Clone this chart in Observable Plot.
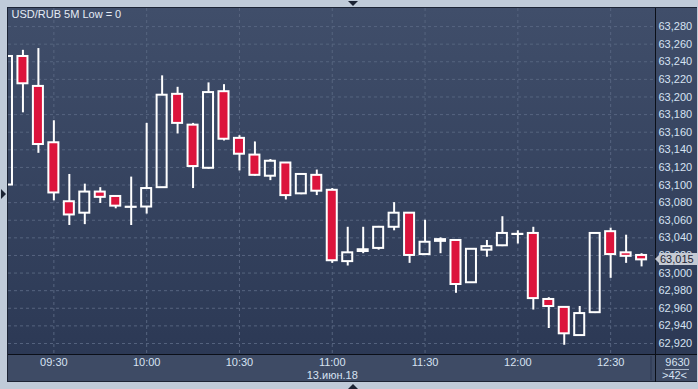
<!DOCTYPE html>
<html><head><meta charset="utf-8">
<script src="https://cdn.jsdelivr.net/npm/d3@7"></script>
<script src="https://cdn.jsdelivr.net/npm/@observablehq/plot@0.6"></script>
<style>
html,body{margin:0;padding:0;background:#c0cbd9;}
#wrap{position:relative;width:698px;height:389px;overflow:hidden;background:#c0cbd9;font-family:"Liberation Sans Narrow","Liberation Sans",Arial,sans-serif;}
#wrap div.l{position:absolute;}
#frame{left:7px;top:7px;width:690px;height:375px;background:#1c2435;}
#plotbg{left:8px;top:8px;width:647px;height:346px;background:linear-gradient(to bottom,#404e6a,#2c3955);}
#rightbg{left:656px;top:8px;width:41px;height:346px;background:linear-gradient(to bottom,#404e6a,#2c3955);}
#bottombg{left:8px;top:355px;width:647px;height:26px;background:#3e4b65;}
#cornerbg{left:656px;top:355px;width:41px;height:26px;background:#3e4b65;}
#vline{left:655px;top:8px;width:1px;height:374px;background:#0b0f18;}
#hline{left:8px;top:354px;width:689px;height:1px;background:#0b0f18;}
#sep{left:650px;top:356px;width:2px;height:24px;background:#34405a;}
#cntLine{left:665px;top:369px;width:24px;height:1px;background:#aab6c8;}
.tri{position:absolute;width:0;height:0;}
#triTop{left:348px;top:1px;border-left:5px solid transparent;border-right:5px solid transparent;border-top:5px solid #1b2333;}
#triBot{left:348px;top:384px;border-left:5px solid transparent;border-right:5px solid transparent;border-bottom:5px solid #1b2333;}
#triLeft{left:1px;top:189px;border-top:5px solid transparent;border-bottom:5px solid transparent;border-left:5px solid #1b2333;}
#plotHost{position:absolute;left:0;top:0;}
#lastBox{position:absolute;left:659px;width:38px;height:12px;background:#c5cad3;color:#1d2536;font-size:11px;line-height:12px;text-align:left;padding-left:1px;box-sizing:border-box;}
#lastArrow{position:absolute;left:655px;width:0;height:0;border-top:4px solid transparent;border-bottom:4px solid transparent;border-right:4px solid #c5cad3;}
</style></head>
<body>
<div id="wrap">
  <div class="l" id="frame"></div>
  <div class="l" id="plotbg"></div>
  <div class="l" id="rightbg"></div>
  <div class="l" id="bottombg"></div>
  <div class="l" id="cornerbg"></div>
  <div class="l" id="sep"></div>
  <div class="l" id="cntLine"></div>
  <div class="tri" id="triTop"></div>
  <div class="tri" id="triBot"></div>
  <div class="tri" id="triLeft"></div>
  <div id="plotHost"></div>
  <div class="l" id="vline"></div>
  <div class="l" id="hline"></div>
  <div id="lastArrow"></div>
  <div id="lastBox"></div>
</div>
<script>
// ---- data ----
const titleText = "USD/RUB 5M Low = 0";
const times  = ["09:15","09:20","09:25","09:30","09:35","09:40","09:45","09:50","09:55","10:00",
                "10:05","10:10","10:15","10:20","10:25","10:30","10:35","10:40","10:45","10:50",
                "10:55","11:00","11:05","11:10","11:15","11:20","11:25","11:30","11:35","11:40",
                "11:45","11:50","11:55","12:00","12:05","12:10","12:15","12:20","12:25","12:30",
                "12:35","12:40"];
const opens  = [63100,63246,63212,63148,63081,63068,63092,63087,63074.8,63075,
                63097,63203,63168,63119,63206,63153,63134,63110,63125,63090,
                63111,63094,63013,63024.5,63028,63052,63068,63021,63036,63037,
                62989,63026,63031,63044,63045,62970,62961,62929,62955,63047,
                63023,63020];
const highs  = [63246,63253,63255,63173,63112,63101,63097,63087,63109,63170,
                63224,63211,63170,63216,63214,63156,63149,63129,63125,63113,
                63117,63096,63052,63052,63053,63080,63068,63060,63040,63037,
                63027,63037,63064,63048,63052,62972,62961,62962,63046,63051,
                63043,63022];
const lows   = [63100,63182,63136,63082,63054,63055,63079,63073,63054,63067,
                63097,63158,63096,63118,63150,63116,63110,63105,63083,63089,
                63088,63011,63008,63022,63026,63048,63011,63020,63022,62977,
                62989,63018,63030,63033,62958,62937,62918,62929,62954,62994,
                63011,63007];
const closes = [63246,63215,63146,63091,63066,63092,63086,63076,63074.6,63096,
                63202,63170,63121,63205,63152,63135,63111,63127,63088,63112,
                63093,63014,63023,63026.5,63052,63068,63020,63035,63038,62987,
                63027,63030,63045,63043.8,62971,62962,62931,62954,63045,63021,
                63019,63015];
const priceTicks = [62920,62940,62960,62980,63000,63020,63040,63060,63080,63100,
                    63120,63140,63160,63180,63200,63220,63240,63260,63280];
const timeTicks = ["09:30","10:00","10:30","11:00","11:30","12:00","12:30"];
const dateLabel = "13.июн.18";
const dateLabelTime = "11:00";
const lastPrice = 63015;
const counterTop = "9630";
const counterBottom = ">42<";
const xStart = "09:15:20", xEnd = "12:44:30";
const yMin = 62907.5, yMax = 63300.5;

// ---- build ----
function toDate(s){const p=s.split(":").map(Number);return new Date(Date.UTC(2018,5,13,p[0],p[1],p[2]||0));}
const data = times.map((t,i)=>({t:toDate(t),o:opens[i],h:highs[i],l:lows[i],c:closes[i]}));
const half = 1.62*60000;
const FONT = '"Liberation Sans Narrow","Liberation Sans",Arial,sans-serif';
const txt = "#d6e2f2";
const grid = {stroke:"#56647f",strokeOpacity:1,strokeDasharray:"3,3",strokeWidth:1};

const plot = Plot.plot({
  width:698, height:389,
  marginLeft:8, marginTop:8, marginRight:43, marginBottom:35,
  style:{background:"transparent",color:txt,fontFamily:FONT,fontSize:"11px",overflow:"visible"},
  x:{type:"utc",domain:[toDate(xStart),toDate(xEnd)]},
  y:{domain:[yMin,yMax]},
  marks:[
    Plot.gridY(priceTicks,grid),
    Plot.gridX(timeTicks.map(toDate),grid),
    Plot.axisY(priceTicks,{anchor:"right",tickSize:0,tickPadding:3,tickFormat:d3.format(","),label:null,fill:txt}),
    Plot.axisX(timeTicks.map(toDate),{anchor:"bottom",tickSize:0,tickPadding:4,tickFormat:d3.utcFormat("%H:%M"),label:null,fill:txt}),
    Plot.text([dateLabel],{x:()=>toDate(dateLabelTime),frameAnchor:"bottom",lineAnchor:"middle",dy:20.5,fill:txt,text:d=>d}),
    Plot.text([titleText],{frameAnchor:"top-left",textAnchor:"start",lineAnchor:"middle",dx:3,dy:6,fill:"#e4ebf5",text:d=>d}),
    Plot.text([counterTop],{frameAnchor:"bottom-right",textAnchor:"middle",lineAnchor:"middle",dx:22,dy:8,fill:txt,text:d=>d}),
    Plot.text([counterBottom],{frameAnchor:"bottom-right",textAnchor:"middle",lineAnchor:"middle",dx:19,dy:20.5,fill:txt,text:d=>d}),
    Plot.ruleX(data,{x:"t",y1:d=>Math.max(d.o,d.c),y2:"h",stroke:"#ffffff",strokeWidth:2,clip:true}),
    Plot.ruleX(data,{x:"t",y1:"l",y2:d=>Math.min(d.o,d.c),stroke:"#ffffff",strokeWidth:2,clip:true}),
    Plot.rect(data,{x1:d=>new Date(+d.t-half),x2:d=>new Date(+d.t+half),y1:"o",y2:"c",
      fill:d=>d.c<d.o?"#dc143c":"none",stroke:"#ffffff",strokeWidth:2,clip:true})
  ]
});
document.getElementById("plotHost").appendChild(plot);

const yPx = plot.scale("y").apply(lastPrice);
const box = document.getElementById("lastBox");
box.style.top = (yPx-6)+"px";
box.textContent = d3.format(",")(lastPrice);
document.getElementById("lastArrow").style.top = (yPx-4)+"px";
</script>
</body></html>
